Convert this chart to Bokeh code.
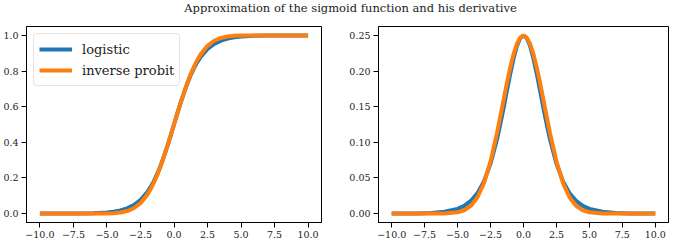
from bokeh.plotting import figure
from bokeh.models import FixedTicker, Div, Range1d
from bokeh.layouts import column, row
from bokeh.embed import file_html
from bokeh.resources import INLINE

TITLE = "Approximation of the sigmoid function and his derivative"

x = [-10, -9, -8, -7, -6, -5, -4.5, -4, -3.5, -3, -2.5, -2, -1.75, -1.5, -1.25, -1, -0.75, -0.5, -0.25, 0,
     0.25, 0.5, 0.75, 1, 1.25, 1.5, 1.75, 2, 2.5, 3, 3.5, 4, 4.5, 5, 6, 7, 8, 9, 10]

logistic = [0.0000, 0.0001, 0.0003, 0.0009, 0.0025, 0.0067, 0.0110, 0.0180, 0.0293, 0.0474, 0.0759, 0.1192,
            0.1481, 0.1824, 0.2227, 0.2689, 0.3208, 0.3775, 0.4378, 0.5000,
            0.5622, 0.6225, 0.6792, 0.7311, 0.7773, 0.8176, 0.8519, 0.8808, 0.9241, 0.9526, 0.9707, 0.9820,
            0.9890, 0.9933, 0.9975, 0.9991, 0.9997, 0.9999, 1.0000]

inverse_probit = [0.0000, 0.0000, 0.0000, 0.0000, 0.0001, 0.0009, 0.0024, 0.0061, 0.0141, 0.0301, 0.0586, 0.1050,
                  0.1364, 0.1736, 0.2167, 0.2654, 0.3192, 0.3770, 0.4377, 0.5000,
                  0.5623, 0.6230, 0.6808, 0.7346, 0.7833, 0.8264, 0.8636, 0.8950, 0.9414, 0.9699, 0.9859, 0.9939,
                  0.9976, 0.9991, 0.9999, 1.0000, 1.0000, 1.0000, 1.0000]

d_logistic = [0.0000, 0.0001, 0.0003, 0.0009, 0.0025, 0.0066, 0.0109, 0.0177, 0.0284, 0.0452, 0.0701, 0.1050,
              0.1262, 0.1491, 0.1731, 0.1966, 0.2179, 0.2350, 0.2461, 0.2500,
              0.2461, 0.2350, 0.2179, 0.1966, 0.1731, 0.1491, 0.1262, 0.1050, 0.0701, 0.0452, 0.0284, 0.0177,
              0.0109, 0.0066, 0.0025, 0.0009, 0.0003, 0.0001, 0.0000]

d_inverse_probit = [0.0000, 0.0000, 0.0000, 0.0000, 0.0002, 0.0018, 0.0047, 0.0108, 0.0226, 0.0427, 0.0733, 0.1140,
                    0.1370, 0.1607, 0.1840, 0.2054, 0.2239, 0.2380, 0.2469, 0.2500,
                    0.2469, 0.2380, 0.2239, 0.2054, 0.1840, 0.1607, 0.1370, 0.1140, 0.0733, 0.0427, 0.0226, 0.0108,
                    0.0047, 0.0018, 0.0002, 0.0000, 0.0000, 0.0000, 0.0000]

x_ticks = [-10, -7.5, -5, -2.5, 0, 2.5, 5, 7.5, 10]
x_tick_labels = ["\u221210.0", "\u22127.5", "\u22125.0", "\u22122.5", "0.0", "2.5", "5.0", "7.5", "10.0"]
y1_ticks = [0, 0.2, 0.4, 0.6, 0.8, 1.0]
y1_tick_labels = ["0.0", "0.2", "0.4", "0.6", "0.8", "1.0"]
y2_ticks = [0, 0.05, 0.1, 0.15, 0.2, 0.25]
y2_tick_labels = ["0.00", "0.05", "0.10", "0.15", "0.20", "0.25"]

BLUE = "#1f77b4"
ORANGE = "#ff7f0e"
FONT = "DejaVu Serif"


def style(p, yt, yl):
    p.xaxis.ticker = FixedTicker(ticks=x_ticks)
    p.xaxis.major_label_overrides = dict(zip(x_ticks, x_tick_labels))
    p.yaxis.ticker = FixedTicker(ticks=yt)
    p.yaxis.major_label_overrides = dict(zip(yt, yl))
    for ax in (p.xaxis[0], p.yaxis[0]):
        ax.major_tick_out = 5
        ax.major_tick_in = 0
        ax.minor_tick_out = 0
        ax.minor_tick_in = 0
        ax.axis_line_color = "black"
        ax.major_tick_line_color = "black"
        ax.major_label_text_font = FONT
        ax.major_label_text_font_size = "9.5px"
        ax.major_label_text_color = "#222222"
        ax.major_label_standoff = 3
    p.xgrid.visible = False
    p.ygrid.visible = False
    p.outline_line_color = "black"
    p.outline_line_alpha = 1
    p.min_border_top = 4
    p.min_border_bottom = 21


p1 = figure(width=332, height=221, output_backend="svg", toolbar_location=None,
            x_range=Range1d(-11, 11), y_range=Range1d(-0.05, 1.05),
            min_border_left=21, min_border_right=11)
p1.line(x, logistic, color=BLUE, line_width=4, legend_label="logistic")
p1.line(x, inverse_probit, color=ORANGE, line_width=4, legend_label="inverse probit")
style(p1, y1_ticks, y1_tick_labels)
lg = p1.legend[0]
lg.location = "top_left"
lg.margin = 7
lg.padding = 5
lg.spacing = 1
lg.glyph_width = 33
lg.glyph_height = 20
lg.label_height = 20
lg.label_standoff = 10
lg.label_text_font = FONT
lg.label_text_font_size = "13px"
lg.label_text_color = "#222222"
lg.border_line_color = "#cccccc"
lg.border_line_width = 1
lg.border_radius = 4
lg.background_fill_alpha = 0.8

p2 = figure(width=337, height=221, output_backend="svg", toolbar_location=None,
            x_range=Range1d(-11, 11), y_range=Range1d(-0.0125, 0.2625),
            min_border_left=46, min_border_right=1)
p2.line(x, d_logistic, color=BLUE, line_width=4)
p2.line(x, d_inverse_probit, color=ORANGE, line_width=4)
style(p2, y2_ticks, y2_tick_labels)

title = Div(text=('<div style="font-family:\'DejaVu Serif\';font-size:11.5px;color:#222;'
                  'text-align:center;position:relative;top:-5px;left:11px;white-space:nowrap;'
                  'width:669px;line-height:12px">' + TITLE + '</div>'),
            width=669, height=12)

layout = column(title, row(p1, p2, spacing=0), spacing=0)
open("out.html", "w").write(file_html(layout, INLINE))
